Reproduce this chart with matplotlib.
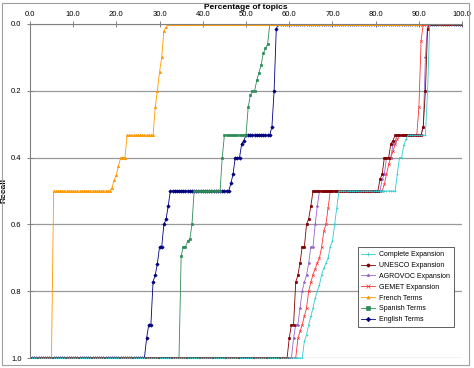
import matplotlib
matplotlib.use("Agg")
import matplotlib.pyplot as plt
import numpy as np
from matplotlib.patches import Rectangle
from matplotlib.ticker import FormatStrFormatter, MultipleLocator

# recall of each topic, sorted from best to worst (200 topics)
ENGLISH = ([1.0] * 53
           + [0.941, 0.9, 0.9, 0.771, 0.752, 0.717, 0.667, 0.667, 0.6, 0.585, 0.545]
           + [0.5] * 28
           + [0.477, 0.45, 0.4, 0.4, 0.4, 0.359, 0.349]
           + [0.333] * 12
           + [0.307, 0.2, 0.015]
           + [0.0] * 86)
SPANISH = ([1.0] * 69
           + [0.695, 0.667, 0.667, 0.65, 0.644, 0.6]
           + [0.5] * 13
           + [0.4]
           + [0.333] * 11
           + [0.25, 0.213, 0.2, 0.2, 0.168, 0.146, 0.123, 0.088, 0.073, 0.06]
           + [0.0] * 90)
FRENCH = ([1.0] * 10
          + [0.5] * 27
          + [0.49, 0.467, 0.452, 0.425]
          + [0.4] * 3
          + [0.333] * 13
          + [0.25, 0.2, 0.143, 0.1, 0.02, 0.01]
          + [0.0] * 137)
GEMET = ([1.0] * 123
         + [0.941, 0.92, 0.9, 0.875, 0.85, 0.8, 0.773, 0.75, 0.733, 0.715, 0.7, 0.667, 0.62, 0.6, 0.55]
         + [0.5] * 25
         + [0.48, 0.45, 0.42, 0.4, 0.38, 0.36, 0.345]
         + [0.333] * 9
         + [0.25, 0.05]
         + [0.0] * 19)
AGROVOC = ([1.0] * 121
           + [0.941, 0.9, 0.9, 0.85, 0.8, 0.773, 0.752, 0.715, 0.667, 0.667, 0.6, 0.545]
           + [0.5] * 29
           + [0.465, 0.45, 0.4, 0.4, 0.4, 0.359, 0.349]
           + [0.333] * 12
           + [0.307, 0.1]
           + [0.0] * 17)
UNESCO = ([1.0] * 119
          + [0.941, 0.9, 0.9, 0.773, 0.752, 0.715, 0.667, 0.667, 0.6, 0.583, 0.545]
          + [0.5] * 31
          + [0.465, 0.45, 0.4, 0.4, 0.4, 0.359, 0.349]
          + [0.333] * 13
          + [0.307, 0.2, 0.015]
          + [0.0] * 16)
COMPLETE = ([1.0] * 126
            + [0.95, 0.93, 0.9, 0.875, 0.85, 0.82, 0.8, 0.78, 0.75, 0.73, 0.716, 0.7, 0.667, 0.65, 0.6, 0.55]
            + [0.5] * 27
            + [0.45, 0.4, 0.4, 0.362, 0.345]
            + [0.333] * 9
            + [0.2]
            + [0.0] * 16)

SERIES = [
    ("English Terms", ENGLISH, "#000080", "D"),
    ("Spanish Terms", SPANISH, "#2e8b57", "s"),
    ("French Terms", FRENCH, "#ff9900", "^"),
    ("GEMET Expansion", GEMET, "#ff3333", "x"),
    ("AGROVOC Expansion", AGROVOC, "#9966cc", "*"),
    ("UNESCO Expansion", UNESCO, "#800000", "o"),
    ("Complete Expansion", COMPLETE, "#33cccc", "+"),
]

plt.rcParams["font.family"] = ["Liberation Sans", "DejaVu Sans"]

fig = plt.figure(figsize=(4.74, 3.68), dpi=100)
ax = fig.add_axes([0.063, 0.027, 0.912, 0.908])

handles = []
for label, values, color, marker in SERIES:
    y = np.array(values)
    x = np.arange(1, len(y) + 1) / len(y) * 100
    (ln,) = ax.plot(x, y, color=color, lw=0.6, marker=marker, ms=1.7,
                    mec=color, mfc=color, mew=0.5, label=label)
    handles.append(ln)

ax.set_xlim(0, 100)
ax.set_ylim(1.0, 0.0)
ax.xaxis.tick_top()
ax.xaxis.set_label_position("top")
ax.xaxis.set_major_locator(MultipleLocator(10))
ax.yaxis.set_major_locator(MultipleLocator(0.2))
ax.xaxis.set_major_formatter(FormatStrFormatter("%.1f"))
ax.yaxis.set_major_formatter(FormatStrFormatter("%.1f"))
ax.tick_params(axis="both", direction="inout", length=4, width=0.7,
               color="#808080", labelsize=5.5)
ax.tick_params(axis="x", pad=2.5)
ax.tick_params(axis="y", pad=4)
ax.set_xlabel("Percentage of topics", fontsize=6, fontweight="bold", labelpad=1.5)
ax.set_ylabel("Recall", fontsize=6, fontweight="bold")
ax.yaxis.set_label_coords(-0.052, 0.5)
ax.grid(axis="y", color="#999999", lw=0.9)
ax.set_axisbelow(True)
for side in ("right", "bottom"):
    ax.spines[side].set_visible(False)
for side in ("left", "top"):
    ax.spines[side].set_color("#808080")
    ax.spines[side].set_linewidth(0.8)

leg = ax.legend(handles[::-1], [h.get_label() for h in handles[::-1]],
                loc="lower right", bbox_to_anchor=(0.98, 0.093), fontsize=5.0,
                frameon=True, fancybox=False, framealpha=1, edgecolor="#444444",
                borderpad=0.55, labelspacing=0.55, handlelength=2.0,
                handletextpad=0.5, borderaxespad=0, markerscale=1.3)
leg.get_frame().set_linewidth(0.6)

fig.patches.append(Rectangle((0.004, 0.008), 0.985, 0.985, transform=fig.transFigure,
                             fill=False, ec="#a0a0a0", lw=0.8))

fig.savefig("out.png", dpi=100)
